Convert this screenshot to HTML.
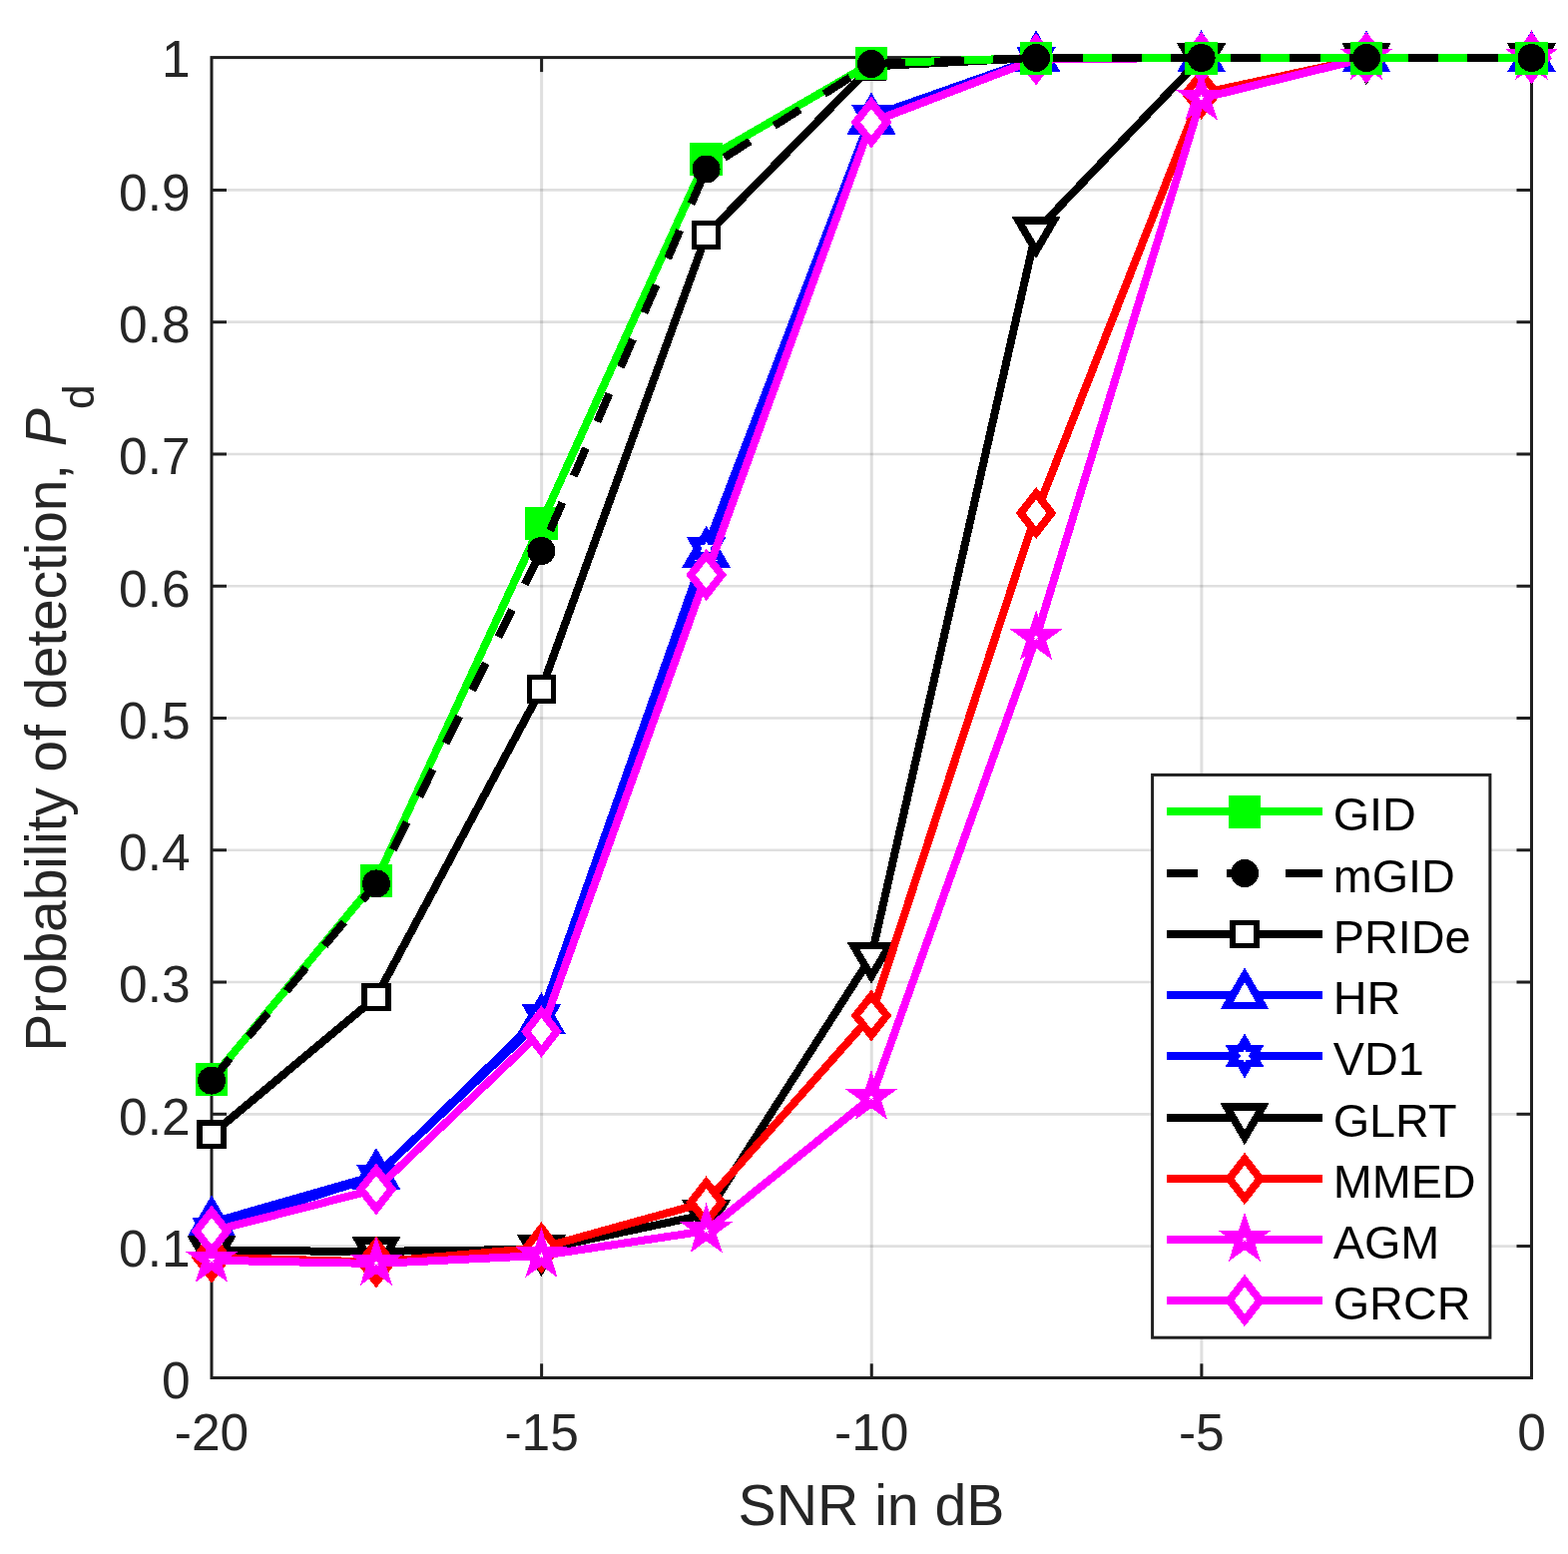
<!DOCTYPE html>
<html lang="en"><head><meta charset="utf-8"><title>Probability of detection versus SNR</title>
<style>html,body{margin:0;padding:0;background:#fff}body{width:1571px;height:1557px;overflow:hidden}svg{display:block}text{font-family:"Liberation Sans",sans-serif}.t{font-size:51.5px;fill:#262626}.l{font-size:57.2px;fill:#262626}.g{font-size:46.8px;fill:#000}</style>
</head><body>
<svg width="1571" height="1557" viewBox="0 0 1571 1557" role="img" aria-label="Probability of detection versus SNR in dB">
<rect width="1571" height="1557" fill="#fff"/>
<g stroke="#262626" stroke-opacity="0.15" stroke-width="3" fill="none">
<line x1="542.62" y1="57.9" x2="542.62" y2="1380.5"/>
<line x1="873.25" y1="57.9" x2="873.25" y2="1380.5"/>
<line x1="1203.88" y1="57.9" x2="1203.88" y2="1380.5"/>
<line x1="212" y1="1248.54" x2="1534.5" y2="1248.54" stroke-width="2.7"/>
<line x1="212" y1="1116.28" x2="1534.5" y2="1116.28" stroke-width="2.7"/>
<line x1="212" y1="984.02" x2="1534.5" y2="984.02" stroke-width="2.7"/>
<line x1="212" y1="851.76" x2="1534.5" y2="851.76" stroke-width="2.7"/>
<line x1="212" y1="719.5" x2="1534.5" y2="719.5" stroke-width="2.7"/>
<line x1="212" y1="587.24" x2="1534.5" y2="587.24" stroke-width="2.7"/>
<line x1="212" y1="454.98" x2="1534.5" y2="454.98" stroke-width="2.7"/>
<line x1="212" y1="322.72" x2="1534.5" y2="322.72" stroke-width="2.7"/>
<line x1="212" y1="190.46" x2="1534.5" y2="190.46" stroke-width="2.7"/>
</g>
<g stroke="#1f1f1f" stroke-width="3" fill="none">
<rect x="212" y="57.6" width="1322.5" height="1322.9"/>
<line x1="542.62" y1="1380.5" x2="542.62" y2="1366.3"/>
<line x1="542.62" y1="57.9" x2="542.62" y2="72.1"/>
<line x1="873.25" y1="1380.5" x2="873.25" y2="1366.3"/>
<line x1="873.25" y1="57.9" x2="873.25" y2="72.1"/>
<line x1="1203.88" y1="1380.5" x2="1203.88" y2="1366.3"/>
<line x1="1203.88" y1="57.9" x2="1203.88" y2="72.1"/>
<line x1="212" y1="1248.54" x2="227" y2="1248.54"/>
<line x1="1534.5" y1="1248.54" x2="1519.5" y2="1248.54"/>
<line x1="212" y1="1116.28" x2="227" y2="1116.28"/>
<line x1="1534.5" y1="1116.28" x2="1519.5" y2="1116.28"/>
<line x1="212" y1="984.02" x2="227" y2="984.02"/>
<line x1="1534.5" y1="984.02" x2="1519.5" y2="984.02"/>
<line x1="212" y1="851.76" x2="227" y2="851.76"/>
<line x1="1534.5" y1="851.76" x2="1519.5" y2="851.76"/>
<line x1="212" y1="719.5" x2="227" y2="719.5"/>
<line x1="1534.5" y1="719.5" x2="1519.5" y2="719.5"/>
<line x1="212" y1="587.24" x2="227" y2="587.24"/>
<line x1="1534.5" y1="587.24" x2="1519.5" y2="587.24"/>
<line x1="212" y1="454.98" x2="227" y2="454.98"/>
<line x1="1534.5" y1="454.98" x2="1519.5" y2="454.98"/>
<line x1="212" y1="322.72" x2="227" y2="322.72"/>
<line x1="1534.5" y1="322.72" x2="1519.5" y2="322.72"/>
<line x1="212" y1="190.46" x2="227" y2="190.46"/>
<line x1="1534.5" y1="190.46" x2="1519.5" y2="190.46"/>
</g>
<g class="t" text-anchor="end">
<text x="190.6" y="1401.1">0</text>
<text x="190.6" y="1268.84">0.1</text>
<text x="190.6" y="1136.58">0.2</text>
<text x="190.6" y="1004.32">0.3</text>
<text x="190.6" y="872.06">0.4</text>
<text x="190.6" y="739.8">0.5</text>
<text x="190.6" y="607.54">0.6</text>
<text x="190.6" y="475.28">0.7</text>
<text x="190.6" y="343.02">0.8</text>
<text x="190.6" y="210.76">0.9</text>
<text x="190.6" y="77.3">1</text>
</g>
<g class="t" text-anchor="middle">
<text x="212" y="1453">-20</text>
<text x="542.62" y="1453">-15</text>
<text x="873.25" y="1453">-10</text>
<text x="1203.88" y="1453">-5</text>
<text x="1534.5" y="1453">0</text>
</g>
<text class="l" text-anchor="middle" x="873" y="1527.5">SNR in dB</text>
<text class="l" letter-spacing="-0.23" transform="translate(65.9 1053.8) rotate(-90)">Probability of detection, <tspan font-style="italic" dx="2.2">P</tspan><tspan dx="-0.8" dy="27.6" font-size="44.5px">d</tspan></text>
<g fill="none" stroke-width="8" stroke-linejoin="round" shape-rendering="crispEdges">
<polyline points="212,1136.65 377,998.96 542.4,690.4 707.6,235.6 873,66.45 1038.1,58 1203.6,58 1369,58 1534.5,58" stroke="#000000"/>
<g stroke="none">
<rect x="197.2" y="1122.2" width="29.6" height="28.9" fill="#000000"/><rect x="202.85" y="1127.5" width="18.3" height="18.3" fill="#fff"/>
<rect x="362.2" y="984.51" width="29.6" height="28.9" fill="#000000"/><rect x="367.85" y="989.81" width="18.3" height="18.3" fill="#fff"/>
<rect x="527.6" y="675.95" width="29.6" height="28.9" fill="#000000"/><rect x="533.25" y="681.25" width="18.3" height="18.3" fill="#fff"/>
<rect x="692.8" y="221.15" width="29.6" height="28.9" fill="#000000"/><rect x="698.45" y="226.45" width="18.3" height="18.3" fill="#fff"/>
<rect x="858.2" y="52" width="29.6" height="28.9" fill="#000000"/><rect x="863.85" y="57.3" width="18.3" height="18.3" fill="#fff"/>
<rect x="1023.3" y="43.55" width="29.6" height="28.9" fill="#000000"/><rect x="1028.95" y="48.85" width="18.3" height="18.3" fill="#fff"/>
<rect x="1188.8" y="43.55" width="29.6" height="28.9" fill="#000000"/><rect x="1194.45" y="48.85" width="18.3" height="18.3" fill="#fff"/>
<rect x="1354.2" y="43.55" width="29.6" height="28.9" fill="#000000"/><rect x="1359.85" y="48.85" width="18.3" height="18.3" fill="#fff"/>
<rect x="1519.7" y="43.55" width="29.6" height="28.9" fill="#000000"/><rect x="1525.35" y="48.85" width="18.3" height="18.3" fill="#fff"/>
</g>
<polyline points="212,1225 377,1177.65 542.4,1021.8 707.6,554.5 873,120.3 1038.1,58 1203.6,58 1369,58 1534.5,58" stroke="#0000ff"/>
<g stroke="none">
<polygon points="212,1197.3 236.6,1239.45 187.4,1239.45" fill="#0000ff"/><polygon points="212,1211.95 223.2,1232 200.8,1232" fill="#fff"/>
<polygon points="377,1149.95 401.6,1192.1 352.4,1192.1" fill="#0000ff"/><polygon points="377,1164.6 388.2,1184.65 365.8,1184.65" fill="#fff"/>
<polygon points="542.4,994.1 567,1036.25 517.8,1036.25" fill="#0000ff"/><polygon points="542.4,1008.75 553.6,1028.8 531.2,1028.8" fill="#fff"/>
<polygon points="707.6,526.8 732.2,568.95 683,568.95" fill="#0000ff"/><polygon points="707.6,541.45 718.8,561.5 696.4,561.5" fill="#fff"/>
<polygon points="873,92.6 897.6,134.75 848.4,134.75" fill="#0000ff"/><polygon points="873,107.25 884.2,127.3 861.8,127.3" fill="#fff"/>
<polygon points="1038.1,30.3 1062.7,72.45 1013.5,72.45" fill="#0000ff"/><polygon points="1038.1,44.95 1049.3,65 1026.9,65" fill="#fff"/>
<polygon points="1203.6,30.3 1228.2,72.45 1179,72.45" fill="#0000ff"/><polygon points="1203.6,44.95 1214.8,65 1192.4,65" fill="#fff"/>
<polygon points="1369,30.3 1393.6,72.45 1344.4,72.45" fill="#0000ff"/><polygon points="1369,44.95 1380.2,65 1357.8,65" fill="#fff"/>
<polygon points="1534.5,30.3 1559.1,72.45 1509.9,72.45" fill="#0000ff"/><polygon points="1534.5,44.95 1545.7,65 1523.3,65" fill="#fff"/>
</g>
<polyline points="212,1231.5 377,1178.6 542.4,1017.7 707.6,549.7 873,116.7 1038.1,58.6 1203.6,58 1369,58 1534.5,58" stroke="#0000ff"/>
<g stroke="none">
<polygon points="212,1208.75 218.56,1220.13 231.7,1220.12 225.13,1231.5 231.7,1242.88 218.56,1242.87 212,1254.25 205.44,1242.87 192.3,1242.88 198.87,1231.5 192.3,1220.12 205.44,1220.13" fill="#0000ff"/><polygon points="212,1224.45 214.03,1227.98 218.11,1227.97 216.07,1231.5 218.11,1235.03 214.03,1235.02 212,1238.55 209.97,1235.02 205.89,1235.03 207.93,1231.5 205.89,1227.97 209.97,1227.98" fill="#fff"/>
<polygon points="377,1155.85 383.56,1167.23 396.7,1167.22 390.13,1178.6 396.7,1189.97 383.56,1189.97 377,1201.35 370.44,1189.97 357.3,1189.97 363.87,1178.6 357.3,1167.22 370.44,1167.23" fill="#0000ff"/><polygon points="377,1171.55 379.04,1175.08 383.11,1175.07 381.07,1178.6 383.11,1182.12 379.04,1182.12 377,1185.65 374.96,1182.12 370.89,1182.12 372.93,1178.6 370.89,1175.07 374.96,1175.08" fill="#fff"/>
<polygon points="542.4,994.95 548.97,1006.33 562.1,1006.33 555.53,1017.7 562.1,1029.08 548.97,1029.07 542.4,1040.45 535.84,1029.07 522.7,1029.08 529.27,1017.7 522.7,1006.33 535.83,1006.33" fill="#0000ff"/><polygon points="542.4,1010.65 544.43,1014.18 548.51,1014.18 546.47,1017.7 548.51,1021.23 544.43,1021.22 542.4,1024.75 540.37,1021.22 536.29,1021.23 538.33,1017.7 536.29,1014.18 540.37,1014.18" fill="#fff"/>
<polygon points="707.6,526.95 714.17,538.33 727.3,538.33 720.73,549.7 727.3,561.08 714.17,561.07 707.6,572.45 701.04,561.07 687.9,561.08 694.47,549.7 687.9,538.33 701.03,538.33" fill="#0000ff"/><polygon points="707.6,542.65 709.63,546.18 713.71,546.18 711.67,549.7 713.71,553.23 709.63,553.22 707.6,556.75 705.57,553.22 701.49,553.23 703.53,549.7 701.49,546.18 705.57,546.18" fill="#fff"/>
<polygon points="873,93.95 879.57,105.33 892.7,105.33 886.13,116.7 892.7,128.07 879.57,128.07 873,139.45 866.43,128.07 853.3,128.07 859.87,116.7 853.3,105.33 866.43,105.33" fill="#0000ff"/><polygon points="873,109.65 875.03,113.18 879.11,113.17 877.07,116.7 879.11,120.23 875.03,120.22 873,123.75 870.97,120.22 866.89,120.23 868.93,116.7 866.89,113.17 870.97,113.18" fill="#fff"/>
<polygon points="1038.1,35.85 1044.66,47.23 1057.8,47.23 1051.23,58.6 1057.8,69.97 1044.66,69.97 1038.1,81.35 1031.53,69.97 1018.4,69.97 1024.97,58.6 1018.4,47.23 1031.53,47.23" fill="#0000ff"/><polygon points="1038.1,51.55 1040.13,55.08 1044.21,55.08 1042.17,58.6 1044.21,62.12 1040.13,62.12 1038.1,65.65 1036.06,62.12 1031.99,62.12 1034.03,58.6 1031.99,55.08 1036.06,55.08" fill="#fff"/>
<polygon points="1203.6,35.25 1210.16,46.63 1223.3,46.62 1216.73,58 1223.3,69.38 1210.16,69.37 1203.6,80.75 1197.03,69.37 1183.9,69.38 1190.47,58 1183.9,46.62 1197.03,46.63" fill="#0000ff"/><polygon points="1203.6,50.95 1205.63,54.48 1209.71,54.48 1207.67,58 1209.71,61.52 1205.63,61.52 1203.6,65.05 1201.56,61.52 1197.49,61.52 1199.53,58 1197.49,54.48 1201.56,54.48" fill="#fff"/>
<polygon points="1369,35.25 1375.57,46.63 1388.7,46.62 1382.13,58 1388.7,69.38 1375.57,69.37 1369,80.75 1362.43,69.37 1349.3,69.38 1355.87,58 1349.3,46.62 1362.43,46.63" fill="#0000ff"/><polygon points="1369,50.95 1371.04,54.48 1375.11,54.48 1373.07,58 1375.11,61.52 1371.04,61.52 1369,65.05 1366.96,61.52 1362.89,61.52 1364.93,58 1362.89,54.48 1366.96,54.48" fill="#fff"/>
<polygon points="1534.5,35.25 1541.07,46.63 1554.2,46.62 1547.63,58 1554.2,69.38 1541.07,69.37 1534.5,80.75 1527.93,69.37 1514.8,69.38 1521.37,58 1514.8,46.62 1527.93,46.63" fill="#0000ff"/><polygon points="1534.5,50.95 1536.54,54.48 1540.61,54.48 1538.57,58 1540.61,61.52 1536.54,61.52 1534.5,65.05 1532.46,61.52 1528.39,61.52 1530.43,58 1528.39,54.48 1532.46,54.48" fill="#fff"/>
</g>
<polyline points="212,1253 377,1253.85 542.4,1251.8 707.6,1216.8 873,958.5 1038.1,231.6 1203.6,58.2 1369,58 1534.5,58" stroke="#000000"/>
<g stroke="none">
<polygon points="212,1280.35 236.6,1238.23 187.4,1238.23" fill="#000000"/><polygon points="212,1265.2 223.3,1245.95 200.7,1245.95" fill="#fff"/>
<polygon points="377,1281.2 401.6,1239.08 352.4,1239.08" fill="#000000"/><polygon points="377,1266.05 388.3,1246.8 365.7,1246.8" fill="#fff"/>
<polygon points="542.4,1279.15 567,1237.03 517.8,1237.03" fill="#000000"/><polygon points="542.4,1264 553.7,1244.75 531.1,1244.75" fill="#fff"/>
<polygon points="707.6,1244.15 732.2,1202.03 683,1202.03" fill="#000000"/><polygon points="707.6,1229 718.9,1209.75 696.3,1209.75" fill="#fff"/>
<polygon points="873,985.85 897.6,943.73 848.4,943.73" fill="#000000"/><polygon points="873,970.7 884.3,951.45 861.7,951.45" fill="#fff"/>
<polygon points="1038.1,258.95 1062.7,216.83 1013.5,216.83" fill="#000000"/><polygon points="1038.1,243.8 1049.4,224.55 1026.8,224.55" fill="#fff"/>
<polygon points="1203.6,85.55 1228.2,43.43 1179,43.43" fill="#000000"/><polygon points="1203.6,70.4 1214.9,51.15 1192.3,51.15" fill="#fff"/>
<polygon points="1369,85.35 1393.6,43.23 1344.4,43.23" fill="#000000"/><polygon points="1369,70.2 1380.3,50.95 1357.7,50.95" fill="#fff"/>
<polygon points="1534.5,85.35 1559.1,43.23 1509.9,43.23" fill="#000000"/><polygon points="1534.5,70.2 1545.8,50.95 1523.2,50.95" fill="#fff"/>
</g>
<polyline points="212,1259.8 377,1264.5 542.4,1250.3 707.6,1204.5 873,1017.5 1038.1,514.1 1203.6,93.6 1369,58 1534.5,58" stroke="#ff0000"/>
<g stroke="none">
<polygon points="212,1233.65 232.4,1259.8 212,1285.95 191.6,1259.8" fill="#ff0000"/><polygon points="212,1246.3 222.5,1259.8 212,1273.3 201.5,1259.8" fill="#fff"/>
<polygon points="377,1238.35 397.4,1264.5 377,1290.65 356.6,1264.5" fill="#ff0000"/><polygon points="377,1251 387.5,1264.5 377,1278 366.5,1264.5" fill="#fff"/>
<polygon points="542.4,1224.15 562.8,1250.3 542.4,1276.45 522,1250.3" fill="#ff0000"/><polygon points="542.4,1236.8 552.9,1250.3 542.4,1263.8 531.9,1250.3" fill="#fff"/>
<polygon points="707.6,1178.35 728,1204.5 707.6,1230.65 687.2,1204.5" fill="#ff0000"/><polygon points="707.6,1191 718.1,1204.5 707.6,1218 697.1,1204.5" fill="#fff"/>
<polygon points="873,991.35 893.4,1017.5 873,1043.65 852.6,1017.5" fill="#ff0000"/><polygon points="873,1004 883.5,1017.5 873,1031 862.5,1017.5" fill="#fff"/>
<polygon points="1038.1,487.95 1058.5,514.1 1038.1,540.25 1017.7,514.1" fill="#ff0000"/><polygon points="1038.1,500.6 1048.6,514.1 1038.1,527.6 1027.6,514.1" fill="#fff"/>
<polygon points="1203.6,67.45 1224,93.6 1203.6,119.75 1183.2,93.6" fill="#ff0000"/><polygon points="1203.6,80.1 1214.1,93.6 1203.6,107.1 1193.1,93.6" fill="#fff"/>
<polygon points="1369,31.85 1389.4,58 1369,84.15 1348.6,58" fill="#ff0000"/><polygon points="1369,44.5 1379.5,58 1369,71.5 1358.5,58" fill="#fff"/>
<polygon points="1534.5,31.85 1554.9,58 1534.5,84.15 1514.1,58" fill="#ff0000"/><polygon points="1534.5,44.5 1545,58 1534.5,71.5 1524,58" fill="#fff"/>
</g>
<polyline points="212,1262.8 377,1266 542.4,1258 707.6,1233.2 873,1099.9 1038.1,639.1 1203.6,98.5 1369,58 1534.5,58" stroke="#ff00ff"/>
<g stroke="none">
<polygon points="212,1234.8 218.23,1253.92 238.34,1253.94 222.08,1265.78 228.28,1284.91 212,1273.1 195.72,1284.91 201.92,1265.78 185.66,1253.94 205.77,1253.92" fill="#ff00ff"/><polygon points="212,1259.1 212.76,1261.45 215.23,1261.45 213.24,1262.9 214,1265.25 212,1263.8 210,1265.25 210.76,1262.9 208.77,1261.45 211.24,1261.45" fill="#fff"/>
<polygon points="377,1238 383.23,1257.12 403.34,1257.14 387.08,1268.98 393.28,1288.11 377,1276.3 360.72,1288.11 366.92,1268.98 350.66,1257.14 370.77,1257.12" fill="#ff00ff"/><polygon points="377,1262.3 377.76,1264.65 380.23,1264.65 378.24,1266.1 379,1268.45 377,1267 375,1268.45 375.76,1266.1 373.77,1264.65 376.24,1264.65" fill="#fff"/>
<polygon points="542.4,1230 548.63,1249.12 568.74,1249.14 552.48,1260.98 558.68,1280.11 542.4,1268.3 526.12,1280.11 532.32,1260.98 516.06,1249.14 536.17,1249.12" fill="#ff00ff"/><polygon points="542.4,1254.3 543.16,1256.65 545.63,1256.65 543.64,1258.1 544.4,1260.45 542.4,1259 540.4,1260.45 541.16,1258.1 539.17,1256.65 541.64,1256.65" fill="#fff"/>
<polygon points="707.6,1205.2 713.83,1224.32 733.94,1224.34 717.68,1236.18 723.88,1255.31 707.6,1243.5 691.32,1255.31 697.52,1236.18 681.26,1224.34 701.37,1224.32" fill="#ff00ff"/><polygon points="707.6,1229.5 708.36,1231.85 710.83,1231.85 708.84,1233.3 709.6,1235.65 707.6,1234.2 705.6,1235.65 706.36,1233.3 704.37,1231.85 706.84,1231.85" fill="#fff"/>
<polygon points="873,1071.9 879.23,1091.02 899.34,1091.04 883.08,1102.88 889.28,1122.01 873,1110.2 856.72,1122.01 862.92,1102.88 846.66,1091.04 866.77,1091.02" fill="#ff00ff"/><polygon points="873,1096.2 873.76,1098.55 876.23,1098.55 874.24,1100 875,1102.35 873,1100.9 871,1102.35 871.76,1100 869.77,1098.55 872.24,1098.55" fill="#fff"/>
<polygon points="1038.1,611.1 1044.33,630.22 1064.44,630.24 1048.18,642.08 1054.38,661.21 1038.1,649.4 1021.82,661.21 1028.02,642.08 1011.76,630.24 1031.87,630.22" fill="#ff00ff"/><polygon points="1038.1,635.4 1038.86,637.75 1041.33,637.75 1039.34,639.2 1040.1,641.55 1038.1,640.1 1036.1,641.55 1036.86,639.2 1034.87,637.75 1037.34,637.75" fill="#fff"/>
<polygon points="1203.6,70.5 1209.83,89.62 1229.94,89.64 1213.68,101.48 1219.88,120.61 1203.6,108.8 1187.32,120.61 1193.52,101.48 1177.26,89.64 1197.37,89.62" fill="#ff00ff"/><polygon points="1203.6,94.8 1204.36,97.15 1206.83,97.15 1204.84,98.6 1205.6,100.95 1203.6,99.5 1201.6,100.95 1202.36,98.6 1200.37,97.15 1202.84,97.15" fill="#fff"/>
<polygon points="1369,30 1375.23,49.12 1395.34,49.14 1379.08,60.98 1385.28,80.11 1369,68.3 1352.72,80.11 1358.92,60.98 1342.66,49.14 1362.77,49.12" fill="#ff00ff"/><polygon points="1369,54.3 1369.76,56.65 1372.23,56.65 1370.24,58.1 1371,60.45 1369,59 1367,60.45 1367.76,58.1 1365.77,56.65 1368.24,56.65" fill="#fff"/>
<polygon points="1534.5,30 1540.73,49.12 1560.84,49.14 1544.58,60.98 1550.78,80.11 1534.5,68.3 1518.22,80.11 1524.42,60.98 1508.16,49.14 1528.27,49.12" fill="#ff00ff"/><polygon points="1534.5,54.3 1535.26,56.65 1537.73,56.65 1535.74,58.1 1536.5,60.45 1534.5,59 1532.5,60.45 1533.26,58.1 1531.27,56.65 1533.74,56.65" fill="#fff"/>
</g>
<polyline points="212,1233.6 377,1191.5 542.4,1033.5 707.6,576 873,122.5 1038.1,59.3 1203.6,58 1369,58 1534.5,58" stroke="#ff00ff"/>
<g stroke="none">
<polygon points="212,1207.45 232.4,1233.6 212,1259.75 191.6,1233.6" fill="#ff00ff"/><polygon points="212,1220.1 222.5,1233.6 212,1247.1 201.5,1233.6" fill="#fff"/>
<polygon points="377,1165.35 397.4,1191.5 377,1217.65 356.6,1191.5" fill="#ff00ff"/><polygon points="377,1178 387.5,1191.5 377,1205 366.5,1191.5" fill="#fff"/>
<polygon points="542.4,1007.35 562.8,1033.5 542.4,1059.65 522,1033.5" fill="#ff00ff"/><polygon points="542.4,1020 552.9,1033.5 542.4,1047 531.9,1033.5" fill="#fff"/>
<polygon points="707.6,549.85 728,576 707.6,602.15 687.2,576" fill="#ff00ff"/><polygon points="707.6,562.5 718.1,576 707.6,589.5 697.1,576" fill="#fff"/>
<polygon points="873,96.35 893.4,122.5 873,148.65 852.6,122.5" fill="#ff00ff"/><polygon points="873,109 883.5,122.5 873,136 862.5,122.5" fill="#fff"/>
<polygon points="1038.1,33.15 1058.5,59.3 1038.1,85.45 1017.7,59.3" fill="#ff00ff"/><polygon points="1038.1,45.8 1048.6,59.3 1038.1,72.8 1027.6,59.3" fill="#fff"/>
<polygon points="1203.6,31.85 1224,58 1203.6,84.15 1183.2,58" fill="#ff00ff"/><polygon points="1203.6,44.5 1214.1,58 1203.6,71.5 1193.1,58" fill="#fff"/>
<polygon points="1369,31.85 1389.4,58 1369,84.15 1348.6,58" fill="#ff00ff"/><polygon points="1369,44.5 1379.5,58 1369,71.5 1358.5,58" fill="#fff"/>
<polygon points="1534.5,31.85 1554.9,58 1534.5,84.15 1514.1,58" fill="#ff00ff"/><polygon points="1534.5,44.5 1545,58 1534.5,71.5 1524,58" fill="#fff"/>
</g>
<polyline points="212,1081.4 377,882.4 542.4,523.95 707.6,159.4 873,63.5 1038.1,58 1203.6,58 1369,58 1534.5,58" stroke="#00ff00"/>
<g stroke="none">
<rect x="195.7" y="1065.35" width="32.6" height="33" fill="#00ff00"/>
<rect x="360.7" y="866.35" width="32.6" height="33" fill="#00ff00"/>
<rect x="526.1" y="507.9" width="32.6" height="33" fill="#00ff00"/>
<rect x="691.3" y="143.35" width="32.6" height="33" fill="#00ff00"/>
<rect x="856.7" y="47.45" width="32.6" height="33" fill="#00ff00"/>
<rect x="1021.8" y="41.95" width="32.6" height="33" fill="#00ff00"/>
<rect x="1187.3" y="41.95" width="32.6" height="33" fill="#00ff00"/>
<rect x="1352.7" y="41.95" width="32.6" height="33" fill="#00ff00"/>
<rect x="1518.2" y="41.95" width="32.6" height="33" fill="#00ff00"/>
</g>
<polyline points="212,1082.6 377,885.4 542.4,552 707.6,169.5 873,64 1038.1,58 1203.6,58 1369,58 1534.5,58" stroke="#000000" stroke-dasharray="30.5 28.9" stroke-dashoffset="1.8"/>
<g stroke="none">
<circle cx="212" cy="1082.6" r="14" fill="#000000"/>
<circle cx="377" cy="885.4" r="14" fill="#000000"/>
<circle cx="542.4" cy="552" r="14" fill="#000000"/>
<circle cx="707.6" cy="169.5" r="14" fill="#000000"/>
<circle cx="873" cy="64" r="14" fill="#000000"/>
<circle cx="1038.1" cy="58" r="14" fill="#000000"/>
<circle cx="1203.6" cy="58" r="14" fill="#000000"/>
<circle cx="1369" cy="58" r="14" fill="#000000"/>
<circle cx="1534.5" cy="58" r="14" fill="#000000"/>
</g>
</g>
<rect x="1154.6" y="776.4" width="338.3" height="563.8" fill="#fff" stroke="#1f1f1f" stroke-width="3"/>
<g fill="none" stroke-width="8" shape-rendering="crispEdges">
<line x1="1169.4" y1="813" x2="1324.6" y2="813" stroke="#00ff00"/>
<g stroke="none"><rect x="1230.7" y="796.95" width="32.6" height="33" fill="#00ff00"/></g>
<line x1="1169.4" y1="875" x2="1324.6" y2="875" stroke="#000000" stroke-dasharray="30.7 29 30.7 28.3 40 100"/>
<g stroke="none"><circle cx="1247" cy="875" r="14" fill="#000000"/></g>
<line x1="1169.4" y1="936" x2="1324.6" y2="936" stroke="#000000"/>
<g stroke="none"><rect x="1232.2" y="921.55" width="29.6" height="28.9" fill="#000000"/><rect x="1237.85" y="926.85" width="18.3" height="18.3" fill="#fff"/></g>
<line x1="1169.4" y1="997" x2="1324.6" y2="997" stroke="#0000ff"/>
<g stroke="none"><polygon points="1247,969.3 1271.6,1011.45 1222.4,1011.45" fill="#0000ff"/><polygon points="1247,983.95 1258.2,1004 1235.8,1004" fill="#fff"/></g>
<line x1="1169.4" y1="1058" x2="1324.6" y2="1058" stroke="#0000ff"/>
<g stroke="none"><polygon points="1247,1035.25 1253.57,1046.63 1266.7,1046.62 1260.13,1058 1266.7,1069.38 1253.57,1069.37 1247,1080.75 1240.43,1069.37 1227.3,1069.38 1233.87,1058 1227.3,1046.62 1240.43,1046.63" fill="#0000ff"/><polygon points="1247,1050.95 1249.04,1054.48 1253.11,1054.47 1251.07,1058 1253.11,1061.53 1249.04,1061.52 1247,1065.05 1244.96,1061.52 1240.89,1061.53 1242.93,1058 1240.89,1054.47 1244.96,1054.48" fill="#fff"/></g>
<line x1="1169.4" y1="1120" x2="1324.6" y2="1120" stroke="#000000"/>
<g stroke="none"><polygon points="1247,1147.35 1271.6,1105.23 1222.4,1105.23" fill="#000000"/><polygon points="1247,1132.2 1258.3,1112.95 1235.7,1112.95" fill="#fff"/></g>
<line x1="1169.4" y1="1181" x2="1324.6" y2="1181" stroke="#ff0000"/>
<g stroke="none"><polygon points="1247,1154.85 1267.4,1181 1247,1207.15 1226.6,1181" fill="#ff0000"/><polygon points="1247,1167.5 1257.5,1181 1247,1194.5 1236.5,1181" fill="#fff"/></g>
<line x1="1169.4" y1="1242" x2="1324.6" y2="1242" stroke="#ff00ff"/>
<g stroke="none"><polygon points="1247,1214 1253.23,1233.12 1273.34,1233.14 1257.08,1244.98 1263.28,1264.11 1247,1252.3 1230.72,1264.11 1236.92,1244.98 1220.66,1233.14 1240.77,1233.12" fill="#ff00ff"/><polygon points="1247,1238.3 1247.76,1240.65 1250.23,1240.65 1248.24,1242.1 1249,1244.45 1247,1243 1245,1244.45 1245.76,1242.1 1243.77,1240.65 1246.24,1240.65" fill="#fff"/></g>
<line x1="1169.4" y1="1303" x2="1324.6" y2="1303" stroke="#ff00ff"/>
<g stroke="none"><polygon points="1247,1276.85 1267.4,1303 1247,1329.15 1226.6,1303" fill="#ff00ff"/><polygon points="1247,1289.5 1257.5,1303 1247,1316.5 1236.5,1303" fill="#fff"/></g>
</g>
<g class="g">
<text x="1335.7" y="831.6">GID</text>
<text x="1335.7" y="893.6">mGID</text>
<text x="1335.7" y="954.6">PRIDe</text>
<text x="1335.7" y="1015.6">HR</text>
<text x="1335.7" y="1076.6">VD1</text>
<text x="1335.7" y="1138.6">GLRT</text>
<text x="1335.7" y="1199.6">MMED</text>
<text x="1335.7" y="1260.6">AGM</text>
<text x="1335.7" y="1321.6">GRCR</text>
</g>
</svg>
</body></html>
